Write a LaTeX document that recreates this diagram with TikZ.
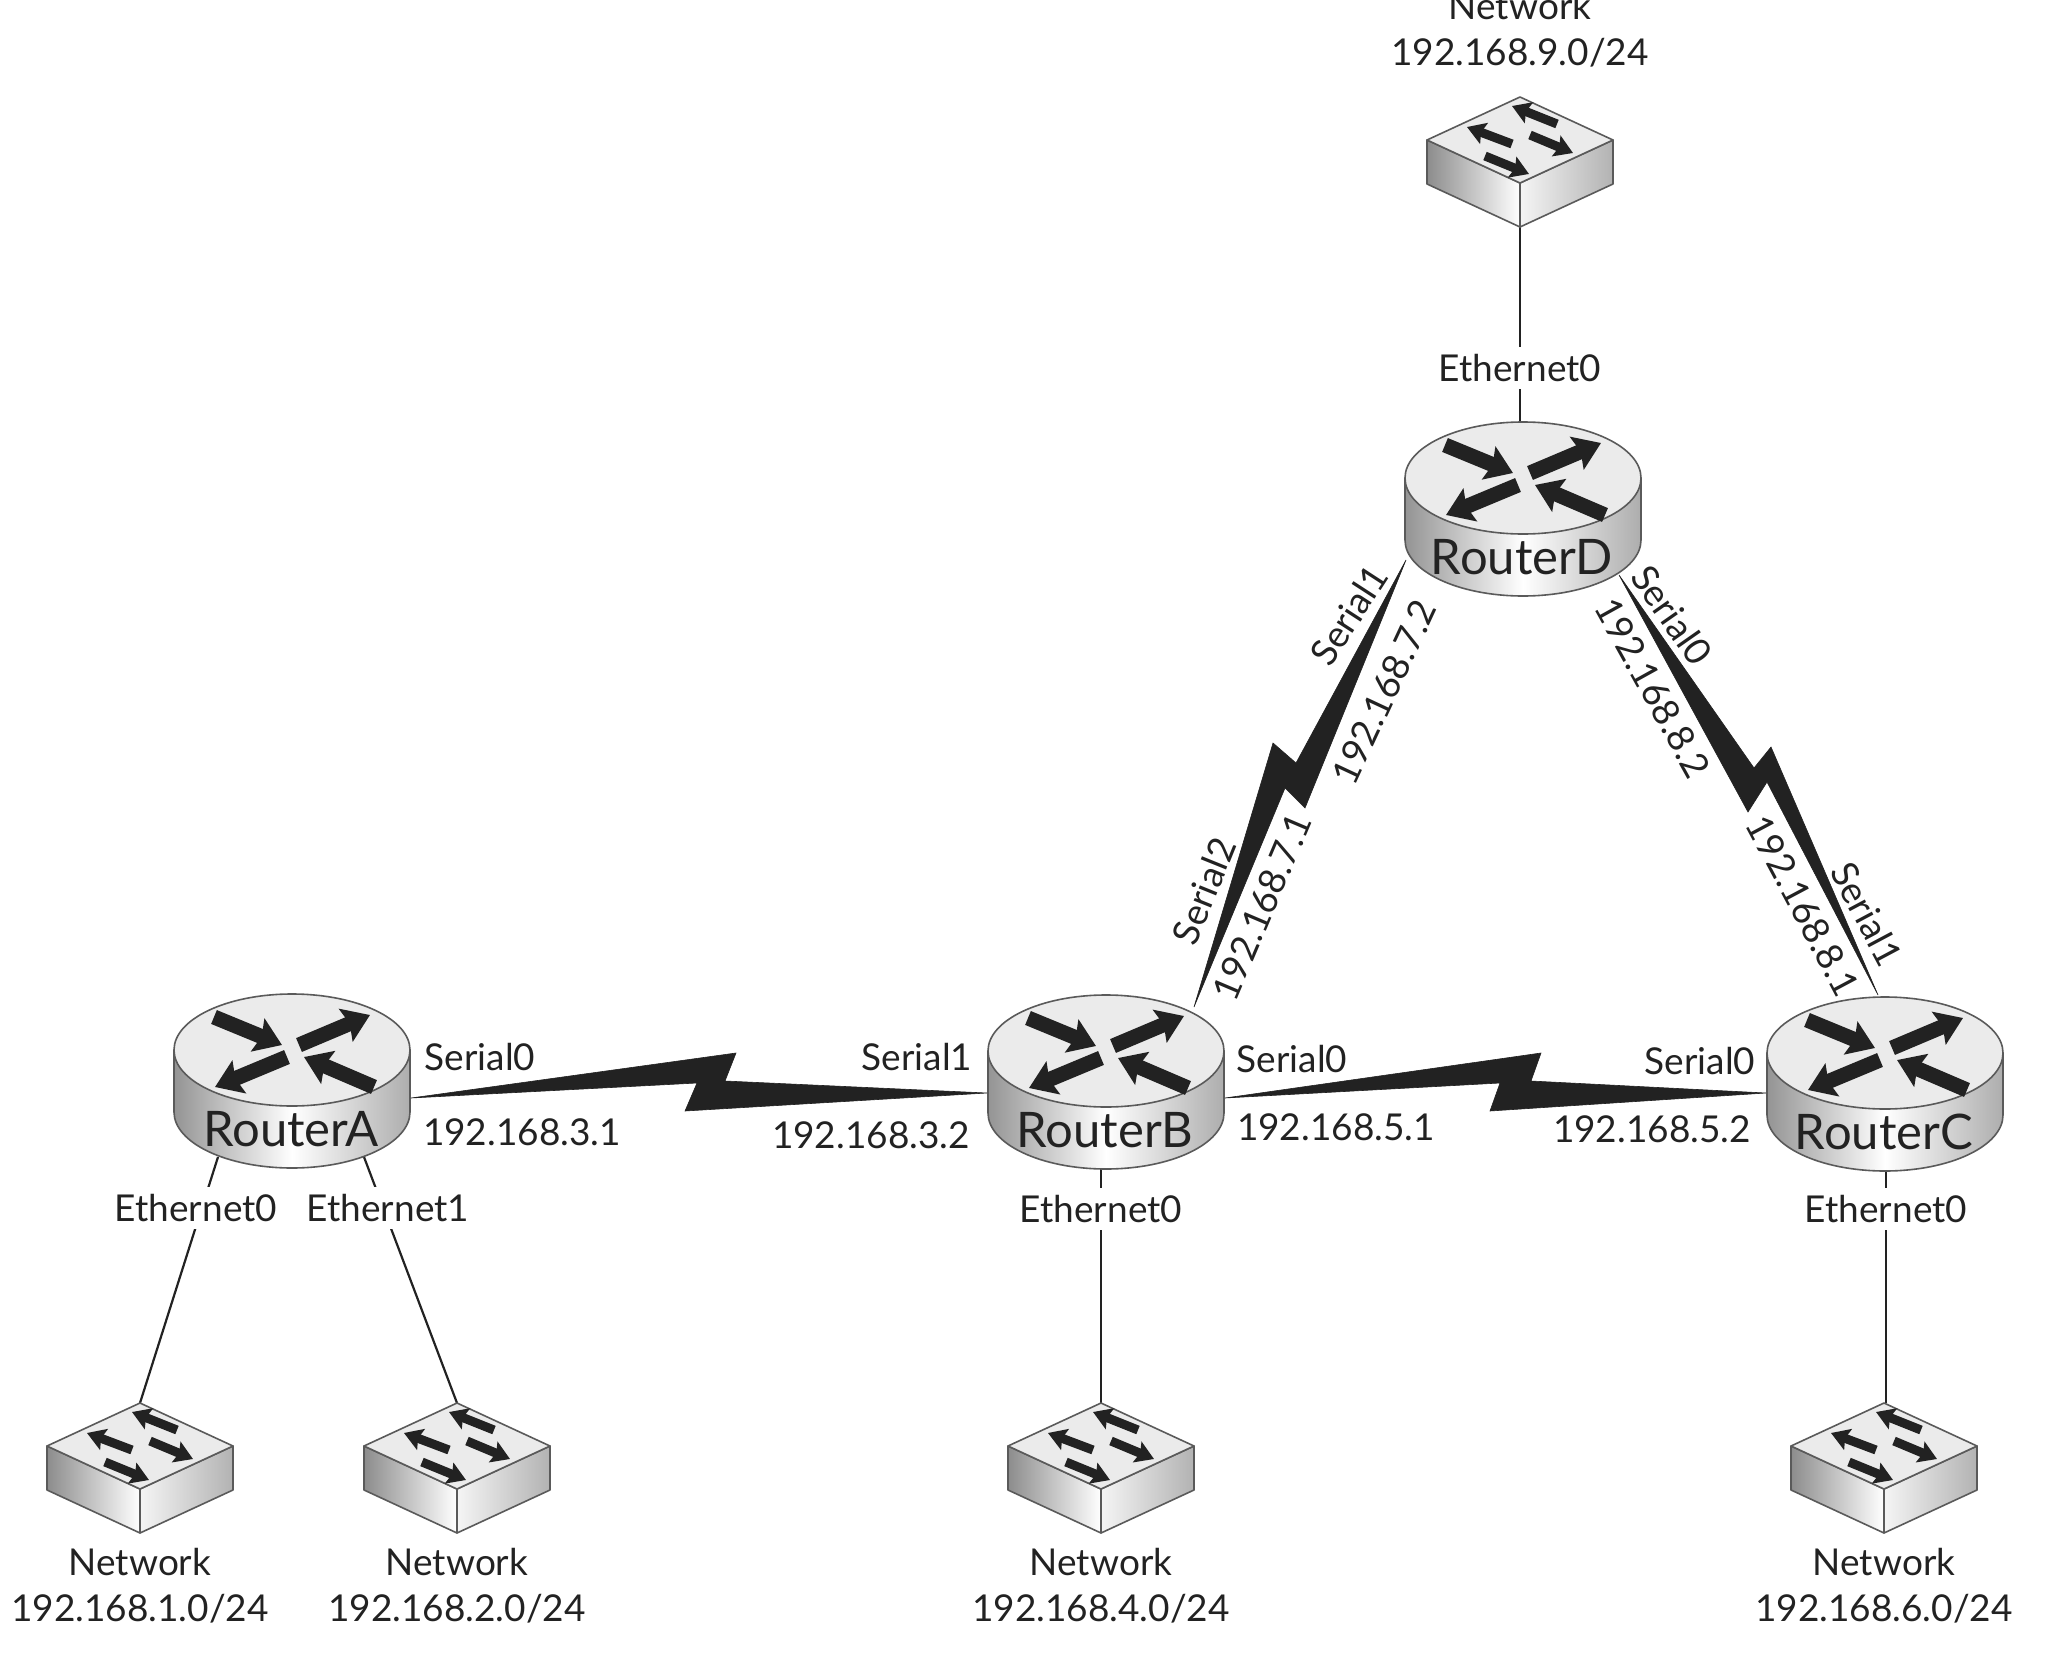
\documentclass[tikz,border=0pt]{standalone}
\usepackage{fontspec}
\setmainfont{Lato}
\usetikzlibrary{arrows.meta}
\definecolor{ink}{HTML}{222222}
\definecolor{edge}{HTML}{5A5A5A}
\tikzset{
  lab/.style={inner sep=0pt,text=ink,font=\fontsize{37}{40}\selectfont},
  routerlab/.style={inner sep=0pt,text=ink,font=\fontsize{49}{52}\selectfont},
  wire/.style={draw=ink,line width=2.2pt},
  zap/.style={fill=ink,draw=ink,line width=0.6pt,line join=miter},
  gap/.style={fill=white,inner xsep=3pt,inner ysep=7pt},
  rarrow/.style={draw=ink,line width=15pt,-{Stealth[length=26pt,width=35pt,inset=4pt]}},
  sarrow/.style={draw=ink,line width=9pt,-{Stealth[length=18pt,width=22pt,inset=3pt]}},
  face/.style={draw=edge,line width=1.6pt,line join=round},
  pics/router/.style={code={
    \path[face,left color=black!42,right color=black!32,middle color=white]
      (-118,0) -- (-118,62) arc[start angle=180,end angle=0,x radius=118,y radius=56] -- (118,0) -- cycle;
    \path[face,fill=black!8] (0,0) ellipse[x radius=118,y radius=56];
    \draw[rarrow] (-78,-33) -- (-10,-5);
    \draw[rarrow] (7,-5) -- (78,-35);
    \draw[rarrow] (-5,7) -- (-77,37);
    \draw[rarrow] (82,37) -- (12,7);
    \node[routerlab] (-name) at (-1,79) {#1};
  }},
  pics/netswitch/.style={code={
    \path[face,left color=black!45,right color=white]
      (-93,0) -- (0,43) -- (0,87) -- (-93,44) -- cycle;
    \path[face,left color=black!4,right color=black!30]
      (93,0) -- (0,43) -- (0,87) -- (93,44) -- cycle;
    \path[face,fill=black!8] (0,-43) -- (93,0) -- (0,43) -- (-93,0) -- cycle;
    \draw[sarrow] (37,-16) -- (-8,-34);
    \draw[sarrow] (-8,4) -- (-53,-13);
    \draw[sarrow] (10,-5) -- (53,13);
    \draw[sarrow] (-35,16) -- (9,34);
  }}
}
\begin{document}
\begin{tikzpicture}[x=1pt,y=-1pt]
\useasboundingbox (0,0) rectangle (2046,1659);
% switch and router anchors
\coordinate (sa1t) at (140,1403);
\coordinate (sa2t) at (457,1403);
\coordinate (sbt) at (1101,1403);
\coordinate (sct) at (1886,1403);
\coordinate (sdb) at (1520,227);
\coordinate (ra-eth0) at (218,1157);
\coordinate (ra-eth1) at (364,1157);
\coordinate (ra-ser0) at (411,1098);
\coordinate (rb-ser1) at (987,1093);
\coordinate (rb-ser0) at (1225,1098);
\coordinate (rb-ser2) at (1194,1007);
\coordinate (rb-eth0) at (1101,1165);
\coordinate (rc-ser0) at (1766,1093);
\coordinate (rc-ser1) at (1878,995);
\coordinate (rc-eth0) at (1886,1165);
\coordinate (rd-ser1) at (1406,560);
\coordinate (rd-ser0) at (1619,575);
\coordinate (rd-eth0) at (1520,424);
% ethernet connectors
\draw[wire] (ra-eth0) -- (sa1t);
\draw[wire] (ra-eth1) -- (sa2t);
\draw[wire] (rb-eth0) -- (sbt);
\draw[wire] (rc-eth0) -- (sct);
\draw[wire] (rd-eth0) -- (sdb);
% serial links
\path[zap] (ra-ser0) -- (736,1053) -- (725,1081) -- (rb-ser1) -- (685,1111) -- (697,1083) -- cycle;
\path[zap] (rb-ser0) -- (1541,1053) -- (1531,1081) -- (rc-ser0) -- (1490,1111) -- (1500,1083) -- cycle;
\path[zap] (rd-ser1) -- (1296,763) -- (1273,743) -- (rb-ser2) -- (1285,788) -- (1305,808) -- cycle;
\path[zap] (rd-ser0) -- (1754,768) -- (1771,747) -- (rc-ser1) -- (1767,782) -- (1748,812) -- cycle;
% devices
\pic (ra) at (292,1050) {router={RouterA}};
\pic (rb) at (1106,1051) {router={RouterB}};
\pic (rc) at (1885,1053) {router={RouterC}};
\pic (rd) at (1523,478) {router={RouterD}};
\pic (sa1) at (140,1446) {netswitch};
\pic (sa2) at (457,1446) {netswitch};
\pic (sb) at (1101,1446) {netswitch};
\pic (sc) at (1884,1446) {netswitch};
\pic (sd) at (1520,140) {netswitch};
% interface labels on wires
\node[lab,gap] (l1) at (196,1208) {Ethernet0};
\node[lab,gap] (l2) at (388,1208) {Ethernet1};
\node[lab,gap] (l3) at (1101,1209) {Ethernet0};
\node[lab,gap] (l4) at (1886,1209) {Ethernet0};
\node[lab,gap] (l5) at (1520,368) {Ethernet0};
% serial labels
\node[lab] (l6) at (480,1057) {Serial0};
\node[lab] (l7) at (522,1132) {192.168.3.1};
\node[lab] (l8) at (917,1057) {Serial1};
\node[lab] (l9) at (871,1135) {192.168.3.2};
\node[lab] (l10) at (1292,1059) {Serial0};
\node[lab] (l11) at (1336,1127) {192.168.5.1};
\node[lab] (l12) at (1700,1061) {Serial0};
\node[lab] (l13) at (1652,1129) {192.168.5.2};
\node[lab,rotate=57] (l14) at (1349,615) {Serial1};
\node[lab,rotate=65] (l15) at (1384,692) {192.168.7.2};
\node[lab,rotate=68] (l16) at (1204,891) {Serial2};
\node[lab,rotate=67] (l17) at (1262,907) {192.168.7.1};
\node[lab,rotate=-55] (l18) at (1672,615) {Serial0};
\node[lab,rotate=-61] (l19) at (1653,688) {192.168.8.2};
\node[lab,rotate=-62] (l20) at (1803,906) {192.168.8.1};
\node[lab,rotate=-62] (l21) at (1867,914) {Serial1};
% network labels
\node[lab] (n1a) at (140,1562) {Network};
\node[lab] (n1b) at (140,1609) {192.168.1.0/24};
\node[lab] (n2a) at (457,1562) {Network};
\node[lab] (n2b) at (457,1609) {192.168.2.0/24};
\node[lab] (n3a) at (1101,1562) {Network};
\node[lab] (n3b) at (1101,1609) {192.168.4.0/24};
\node[lab] (n4a) at (1884,1562) {Network};
\node[lab] (n4b) at (1884,1609) {192.168.6.0/24};
\node[lab] (n5a) at (1520,6) {Network};
\node[lab] (n5b) at (1520,53) {192.168.9.0/24};
\end{tikzpicture}
\end{document}
